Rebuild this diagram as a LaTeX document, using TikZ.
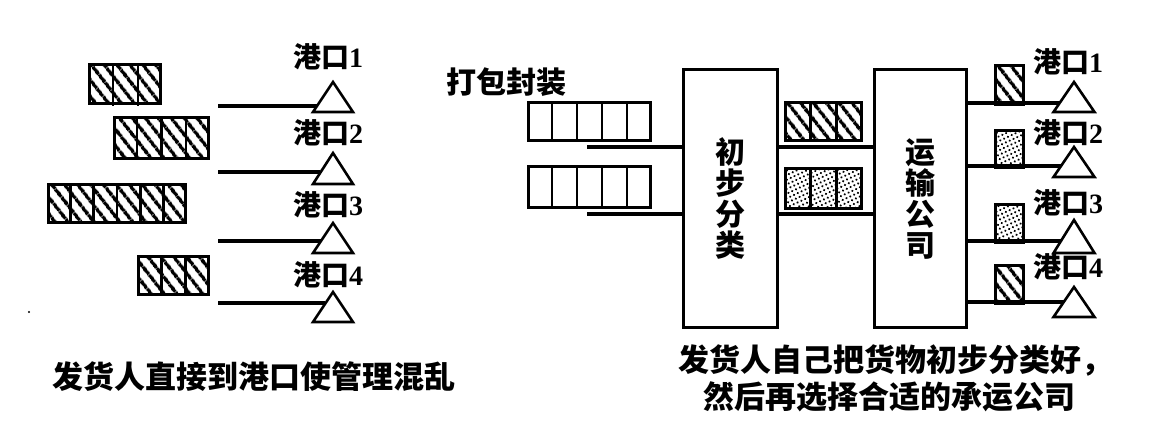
\documentclass[tikz,border=0pt]{standalone}
\usepackage{fontspec}
\newfontfamily\cjk{Noto Sans CJK SC}
\newfontfamily\dig{Liberation Serif}
\usetikzlibrary{patterns.meta,calc}
\tikzset{
  cellbox/.style={draw, line width=3pt, inner sep=0pt, anchor=north west},
  hatch/.style={pattern={Lines[angle=-52,distance=10.5pt,line width=3.8pt]}},
  speck/.style={pattern={Dots[distance=4.2pt,radius=1.2pt,angle=25]}},
  blankfill/.style={fill=white},
  divider/.style={line width=2.4pt},
  tri/.style={draw, line width=2.6pt, fill=white, line join=miter},
  conn/.style={line width=3.4pt},
  bigbox/.style={draw, line width=3.2pt, inner sep=0pt, anchor=north west,
    align=center, font=\cjk\bfseries\fontsize{30}{31}\selectfont},
  lab/.style={font=\cjk\bfseries\fontsize{28}{28}\selectfont, inner sep=0pt, anchor=west},
  captext/.style={font=\cjk\bfseries\fontsize{31}{31}\selectfont, inner sep=0pt, anchor=west},
}
\newcommand\cellrow[7]{%
  \node[cellbox,#7,minimum width=#4pt,minimum height=#5pt] (#1) at (#2,#3) {};
  \foreach \k in {1,...,#6}{%
    \ifnum\k<#6
      \draw[divider] ($(#1.north west)!\k/#6!(#1.north east)$) -- ($(#1.south west)!\k/#6!(#1.south east)$);
    \fi}%
}
\newcommand\porttri[5]{% name, apex x, apex y, half width, height
  \coordinate (#1) at (#2,#3);
  \draw[tri] (#1) -- ++(#4,#5) -- ++(-2*#4,0) -- cycle;
}
\begin{document}
\begin{tikzpicture}[x=1pt,y=-1pt]
\useasboundingbox[fill=white] (0,0) rectangle (1149,440);

% ---------------- left diagram ----------------
\cellrow{la}{88}{63}{71}{39}{3}{hatch}
\cellrow{lb}{113}{116}{94}{41}{4}{hatch}
\cellrow{lc}{47}{183}{137}{38}{6}{hatch}
\cellrow{ld}{137}{255}{70}{38}{3}{hatch}

\coordinate (sa1) at (218,106);
\coordinate (sa2) at (218,172);
\coordinate (sa3) at (218,241);
\coordinate (sa4) at (218,303);
\coordinate (ea1) at (317,106);
\coordinate (ea2) at (320,172);
\coordinate (ea3) at (321,241);
\coordinate (ea4) at (325,303);
\draw[conn] (sa1) -- (ea1);
\draw[conn] (sa2) -- (ea2);
\draw[conn] (sa3) -- (ea3);
\draw[conn] (sa4) -- (ea4);

\porttri{ta1}{333}{82}{20}{30}
\porttri{ta2}{333}{153}{20}{31}
\porttri{ta3}{333}{223}{20}{30}
\porttri{ta4}{333}{292}{20}{30}

\node[lab] (pa1) at (293,57) {港口{\dig\bfseries 1}};
\node[lab] (pa2) at (293,133) {港口{\dig\bfseries 2}};
\node[lab] (pa3) at (293,205) {港口{\dig\bfseries 3}};
\node[lab] (pa4) at (293,275) {港口{\dig\bfseries 4}};

\fill (29,312) circle (1.2pt);

\node[captext] (capL) at (52,377) {发货人直接到港口使管理混乱};

% ---------------- right diagram ----------------
\node[lab, font=\cjk\bfseries\fontsize{30}{30}\selectfont] (pack) at (446,82) {打包封装};

\cellrow{ea}{527}{101}{122}{38}{5}{blankfill}
\cellrow{eb}{527}{165}{122}{41}{5}{blankfill}

\node[bigbox, minimum width=94pt, minimum height=258pt] (sort) at (682,68) {初\\步\\分\\类};
\node[bigbox, minimum width=92pt, minimum height=258pt] (trans) at (873,68) {运\\输\\公\\司};

\coordinate (ia) at (587,147);
\coordinate (ib) at (587,214);
\draw[conn] (ia) -- (sort.west |- ia);
\draw[conn] (ib) -- (sort.west |- ib);
\draw[conn] (sort.east |- ia) -- (trans.west |- ia);
\draw[conn] (sort.east |- ib) -- (trans.west |- ib);

\cellrow{ha}{784}{101}{76}{38}{3}{hatch}
\cellrow{da}{784}{167}{76}{40}{3}{speck}

\node[cellbox, hatch, minimum width=28pt, minimum height=39pt] (r1) at (994,64) {};
\node[cellbox, speck, minimum width=28pt, minimum height=37pt] (r2) at (994,129) {};
\node[cellbox, speck, minimum width=28pt, minimum height=38pt] (r3) at (994,203) {};
\node[cellbox, hatch, minimum width=28pt, minimum height=38pt] (r4) at (994,264) {};

\coordinate (eb1) at (1060,103);
\coordinate (eb2) at (1061,166);
\coordinate (eb3) at (1061,241);
\coordinate (eb4) at (1064,302);
\draw[conn] (trans.east |- eb1) -- (eb1);
\draw[conn] (trans.east |- eb2) -- (eb2);
\draw[conn] (trans.east |- eb3) -- (eb3);
\draw[conn] (trans.east |- eb4) -- (eb4);

\porttri{tb1}{1074}{82}{20.5}{30}
\porttri{tb2}{1074}{147}{20.5}{30}
\porttri{tb3}{1074}{220}{20.5}{33}
\porttri{tb4}{1074}{287}{20.5}{30}

\node[lab] (pb1) at (1033,62) {港口{\dig 1}};
\node[lab] (pb2) at (1033,133) {港口{\dig 2}};
\node[lab] (pb3) at (1033,203) {港口{\dig 3}};
\node[lab] (pb4) at (1033,267) {港口{\dig 4}};

\node[captext] (capR1) at (678,360) {发货人自己把货物初步分类好，};
\node[captext] (capR2) at (703,397) {然后再选择合适的承运公司};
\end{tikzpicture}
\end{document}
